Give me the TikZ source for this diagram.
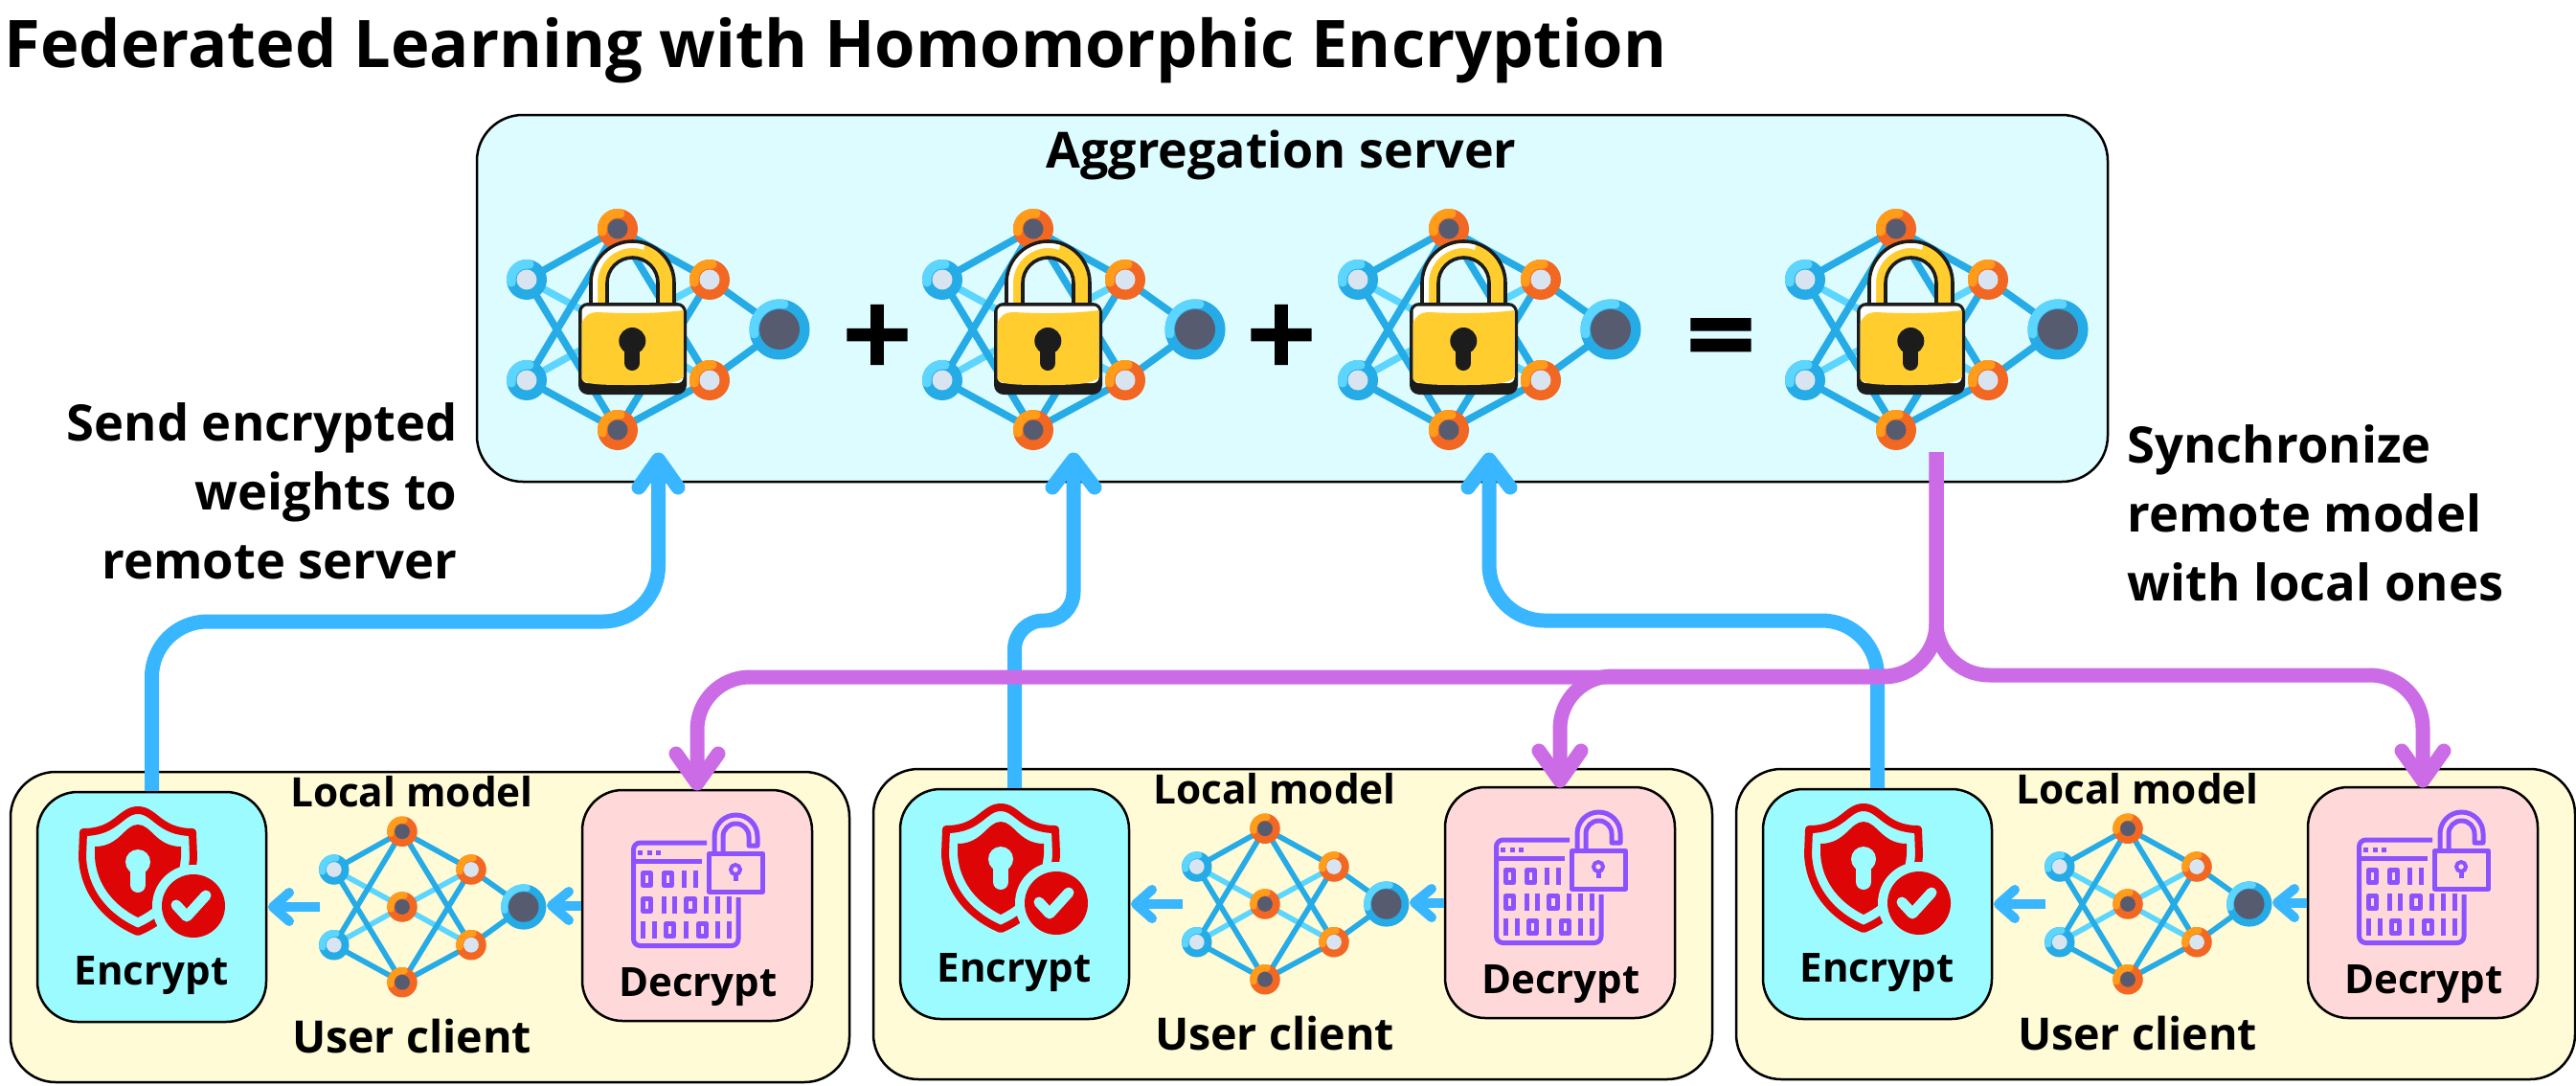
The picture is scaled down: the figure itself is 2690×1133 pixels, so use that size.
\documentclass[tikz,border=0pt]{standalone}
\usepackage{fontspec}
\setmainfont{Open Sans}
\newfontfamily\symf[BoldFeatures={FakeBold=2.5}]{DejaVu Sans}
\definecolor{serverfill}{HTML}{DDFCFF}
\definecolor{clientfill}{HTML}{FFFBD6}
\definecolor{encfill}{HTML}{9BFBFF}
\definecolor{decfill}{HTML}{FFD9D9}
\definecolor{wireblue}{HTML}{38B6FF}
\definecolor{wirepurple}{HTML}{CB6CE6}
\definecolor{netdark}{HTML}{25ABE6}
\definecolor{netlight}{HTML}{5CD6FF}
\definecolor{orangedark}{HTML}{F26722}
\definecolor{orangelight}{HTML}{FF9D1B}
\definecolor{innerpale}{HTML}{D8E4F0}
\definecolor{innerslate}{HTML}{565B70}
\definecolor{lockdark}{HTML}{1C1C1C}
\definecolor{lockyellow}{HTML}{FFCE2E}
\definecolor{shieldred}{HTML}{DD0505}
\definecolor{iconpurple}{HTML}{8C52FF}
\tikzset{
  serverbox/.style={draw=black,line width=2.5pt,fill=serverfill,rounded corners=48pt,inner sep=0pt,minimum width=1703pt,minimum height=383pt},
  clientbox/.style={draw=black,line width=2.5pt,fill=clientfill,rounded corners=47pt,inner sep=0pt,minimum width=876pt,minimum height=324pt},
  encbox/.style={draw=black,line width=2.5pt,fill=encfill,rounded corners=42pt,inner sep=0pt,minimum width=239pt,minimum height=240pt},
  decbox/.style={draw=black,line width=2.5pt,fill=decfill,rounded corners=42pt,inner sep=0pt,minimum width=240pt,minimum height=241pt},
  bluewire/.style={draw=wireblue,line width=15pt},
  purplewire/.style={draw=wirepurple,line width=15pt},
  wirehead/.style={line width=15pt,line cap=round,line join=round},
  smallwire/.style={draw=wireblue,line width=10pt},
  smallhead/.style={draw=wireblue,line width=10pt,line cap=round,line join=round},
  netpt/.style={circle,inner sep=0pt,minimum size=10pt},
  titletext/.style={font=\fontsize{68.6}{84}\selectfont\bfseries,anchor=base west},
  headtext/.style={font=\fontsize{52}{64}\selectfont\bfseries,anchor=base},
  sidetext/.style={font=\fontsize{52.5}{72}\selectfont\bfseries},
  localtext/.style={font=\fontsize{42.3}{48}\selectfont\bfseries,anchor=base},
  usertext/.style={font=\fontsize{46.6}{54}\selectfont\bfseries,anchor=base},
  boxtext/.style={font=\fontsize{42}{48}\selectfont\bfseries,anchor=base},
  opsign/.style={font=\fontsize{97}{100}\selectfont\symf\bfseries,anchor=base},
  iconline/.style={draw=iconpurple,line width=5pt,line join=round},
}
% ring-shaped network dot: name, dark, light, inner, R, r, scale
\newcommand{\ringdot}[7]{%
  \fill[#2] (#1.center) circle[radius=#5];
  \pgfmathsetmacro{\ringmid}{(#5+#6)/2+0.5}
  \pgfmathsetmacro{\ringw}{(#5-#6-1)*#7}
  \draw[#3,line width=\ringw pt,line cap=round] (#1.center) ++(80:\ringmid) arc[start angle=80,end angle=190,radius=\ringmid];
  \fill[#4] (#1.center) circle[radius=#6];
}
% network: x, y of centre (pixels), scale, prefix
\newcommand{\netw}[4]{%
  \begin{scope}[shift={(#1,-#2)},scale=#3]
    \pgfmathsetmacro{\netlw}{7.5*#3}
    \foreach \nm/\px/\py in {i1/-95/52,i2/-95/-53,m1/0/105,m2/0/0,m3/0/-105,r1/96/52,r2/96/-53,o/169/0}
      {\node[netpt] (#4\nm) at (\px,\py) {};}
    \foreach \a/\b in {i1/m2,i2/m2,m2/r1,m2/r2}
      {\draw[netlight,line width=\netlw pt] (#4\a) -- (#4\b);}
    \foreach \a/\b in {i1/m1,i1/m3,i2/m1,i2/m3,m1/r1,m1/r2,m3/r1,m3/r2,r1/o,r2/o}
      {\draw[netdark,line width=\netlw pt] (#4\a) -- (#4\b);}
    \ringdot{#4i1}{netdark}{netlight}{innerpale}{21}{10.5}{#3}
    \ringdot{#4i2}{netdark}{netlight}{innerpale}{21}{10.5}{#3}
    \ringdot{#4m1}{orangedark}{orangelight}{innerslate}{21}{10.5}{#3}
    \ringdot{#4m2}{orangedark}{orangelight}{innerslate}{21}{10.5}{#3}
    \ringdot{#4m3}{orangedark}{orangelight}{innerslate}{21}{10.5}{#3}
    \ringdot{#4r1}{orangedark}{orangelight}{innerpale}{21}{10.5}{#3}
    \ringdot{#4r2}{orangedark}{orangelight}{innerpale}{21}{10.5}{#3}
    \ringdot{#4o}{netdark}{netlight}{innerslate}{31.5}{21}{#3}
  \end{scope}}
% padlock over a server network, dx from the first one
\newcommand{\padlock}[1]{%
  \begin{scope}[shift={(#1,0)}]
    \draw[lockdark,line width=3.6pt,fill=lockyellow,even odd rule]
      (617,-320) -- (617,-295.5) arc[start angle=180,end angle=0,radius=43.5] -- (704,-320) -- (687,-320)
      -- (687,-295.5) arc[start angle=0,end angle=180,radius=26.5] -- (634,-320) -- cycle;
    \draw[white,line width=5pt] (621.5,-316) -- (621.5,-295.5) arc[start angle=180,end angle=72,radius=39];
    \fill[lockdark,rounded corners=10pt] (604,-316) rectangle (717,-412);
    \fill[white,rounded corners=6pt] (607.5,-319.5) rectangle (713.5,-400);
    \fill[lockyellow] (607.5,-338) .. controls (610,-330) and (615,-326) .. (625,-326) .. controls (660,-328) and (690,-327) .. (713.5,-324)
       -- (713.5,-394) .. controls (708,-400) and (695,-402) .. (660,-402) .. controls (630,-402) and (612,-402) .. (607.5,-396) -- cycle;
    \fill[lockdark] (660.3,-356) circle[radius=14];
    \draw[lockdark,line width=16pt,line cap=round] (660.3,-362) -- (660.3,-379);
  \end{scope}}
% shield icon
\newcommand{\shieldicon}{%
  \draw[shieldred,line width=8pt,line join=round]
    (144,-846) .. controls (126,-846) and (122,-869) .. (87,-869) -- (86,-895)
    .. controls (88,-935) and (115,-961) .. (144,-973)
    .. controls (173,-961) and (200,-935) .. (202,-895) -- (201,-869)
    .. controls (166,-869) and (162,-846) .. (144,-846) -- cycle;
  \fill[shieldred] (144,-861) .. controls (130,-861) and (125,-884) .. (99,-884) -- (99,-895)
    .. controls (101,-925) and (120,-946) .. (144,-958)
    .. controls (168,-946) and (187,-925) .. (189,-895) -- (189,-884)
    .. controls (163,-884) and (158,-861) .. (144,-861) -- cycle;
  \fill[encfill] (144,-900) circle[radius=13];
  \draw[encfill,line width=16pt,line cap=round] (144,-905) -- (144,-924);
  \fill[encfill] (202,-946) circle[radius=43];
  \fill[shieldred] (202,-946) circle[radius=33];
  \draw[encfill,line width=11pt,line cap=round,line join=round] (184,-945) -- (195,-957) -- (215,-935);
}
% decrypt icon
\newcommand{\binaryicon}{%
  \draw[iconline,rounded corners=7pt] (738,-880) -- (661.5,-880) -- (661.5,-987.5) -- (771,-987.5) -- (771,-937);
  \draw[iconline] (661.5,-899) -- (733,-899);
  \foreach \dx in {668,678,687} {\fill[iconpurple] (\dx-2.5,-887.5) rectangle (\dx+2.5,-892.5);}
  \foreach \xa/\xb/\ya/\yb in {669/682/909/927,691/704/909/927,669/682/936/954,714/728/936/954,693/706/962/980,727/740/962/980}
    {\draw[iconline] (\xa+2.5,-\ya-2.5) rectangle (\xb-2.5,-\yb+2.5);}
  \foreach \xa/\ya/\yb in {714/909/927,726/909/927,693/936/954,704/936/954,737/936/954,749/936/954,761/936/954,671/962/980,683/962/980,716/962/980,749/962/980,761/962/980}
    {\draw[iconline] (\xa,-\ya) -- (\xa,-\yb);}
  \draw[iconline] (740.5,-891.5) rectangle (796.5,-931);
  \draw[iconline] (746,-889) -- (746,-873.5) arc[start angle=180,end angle=0,radius=22.5] -- (791,-883) -- (782,-883) -- (782,-873.5) arc[start angle=0,end angle=180,radius=13.5] -- (755,-889);
  \draw[iconpurple,line width=4pt] (768,-908) circle[radius=5];
  \draw[iconpurple,line width=5pt] (768,-912) -- (768,-920);
}
% user client: index, dx, dy (upwards)
\newcommand{\userclient}[3]{%
  \begin{scope}[shift={(#2,#3)}]
    \node[clientbox] (client#1) at (449,-968) {};
    \node[localtext] (localtxt#1) at (430,-842) {Local model};
    \node[usertext] (usertxt#1) at (430,-1099) {User client};
    \netw{420}{947}{0.75}{cn#1}
  \end{scope}}
\newcommand{\clientboxes}[3]{%
  \begin{scope}[shift={(#2,#3)}]
    \node[encbox] (enc#1) at (158.5,-947) {};
    \node[decbox] (dec#1) at (728,-945.5) {};
    \shieldicon
    \binaryicon
    \node[boxtext] (enctxt#1) at (158,-1028) {Encrypt};
    \node[boxtext] (dectxt#1) at (729,-1040) {Decrypt};
    \coordinate (ls#1) at (334,-947);
    \coordinate (lt#1) at (285,-947);
    \coordinate (rt#1) at (576,-945.5);
    \draw[smallwire] (ls#1) -- (lt#1);
    \draw[smallhead] (302,-932) -- (lt#1) -- (302,-962);
    \draw[smallwire] (dec#1.west) -- (rt#1);
    \draw[smallhead] (594,-931) -- (rt#1) -- (594,-961);
  \end{scope}}
\begin{document}
\begin{tikzpicture}[x=1pt,y=1pt]
  \useasboundingbox (0,0) rectangle (2690,-1133);
  \fill[white] (0,0) rectangle (2690,-1133);
  \node[titletext] (title) at (1,-70) {Federated Learning with Homomorphic Encryption};
  \node[serverbox] (server) at (1349.5,-311.5) {};
  \node[headtext] (servertxt) at (1338,-175) {Aggregation server};
  \netw{645}{344}{1}{a}
  \netw{1079}{344}{1}{b}
  \netw{1513}{344}{1}{c}
  \netw{1980}{344}{1}{d}
  \padlock{0}
  \padlock{434}
  \padlock{868}
  \padlock{1335}
  \node[opsign] (plusa) at (916,-380) {+};
  \node[opsign] (plusb) at (1338,-380) {+};
  \node[opsign] (equal) at (1797,-380) {=};
  \node[sidetext,align=right,anchor=east] (sendtxt) at (481,-513) {Send encrypted\\weights to\\remote server};
  \node[sidetext,align=left,anchor=west] (synctxt) at (2218,-536) {Synchronize\\remote model\\with local ones};
  \userclient{1}{0}{0}
  \userclient{2}{901}{3}
  \userclient{3}{1802}{3}
  \clientboxes{1}{0}{0}
  \clientboxes{2}{901}{3}
  \clientboxes{3}{1802}{3}
  % tips
  \coordinate (tipa) at (687.5,-480);
  \coordinate (tipb) at (1121,-480);
  \coordinate (tipc) at (1555,-480);
  \coordinate (trunk) at (2022,-472);
  \coordinate (tipx) at (728,-818);
  \coordinate (tipy) at (1629,-815);
  \coordinate (tipz) at (2530,-815);
  % blue wires
  \draw[bluewire,rounded corners=58pt] (enc1.north) -- (158.5,-649) -- (687.5,-649) -- (tipa);
  \draw[bluewire,rounded corners=30pt] (enc2.north) -- (1059.5,-648) -- (1121,-648) -- (tipb);
  \draw[bluewire,rounded corners=58pt] (enc3.north) -- (1960.5,-648) -- (1555,-648) -- (tipc);
  \draw[wireblue,wirehead] (667,-509) -- (tipa) -- (708,-509);
  \draw[wireblue,wirehead] (1099,-509) -- (tipb) -- (1143,-509);
  \draw[wireblue,wirehead] (1533,-509) -- (tipc) -- (1577,-509);
  % purple wires
  \draw[purplewire,rounded corners=55pt] (trunk) -- (2022,-707) -- (728,-707) -- (tipx);
  \draw[purplewire,rounded corners=55pt] (trunk) -- (2022,-706) -- (1629,-706) -- (tipy);
  \draw[purplewire,rounded corners=55pt] (trunk) -- (2022,-705) -- (2530,-705) -- (tipz);
  \draw[wirepurple,wirehead] (706,-787) -- (tipx) -- (750,-787);
  \draw[wirepurple,wirehead] (1607,-784) -- (tipy) -- (1651,-784);
  \draw[wirepurple,wirehead] (2508,-784) -- (tipz) -- (2552,-784);
\end{tikzpicture}
\end{document}
